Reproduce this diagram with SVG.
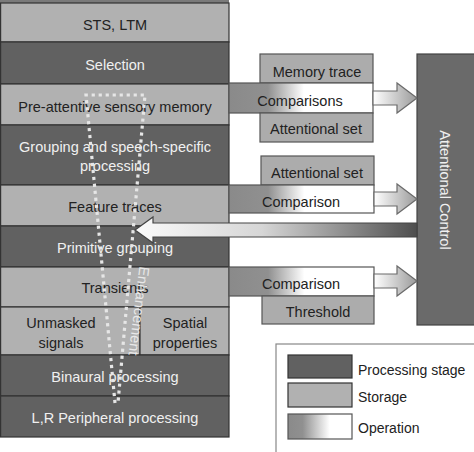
<svg xmlns="http://www.w3.org/2000/svg" width="474" height="452" viewBox="0 0 474 452">
<defs>
<linearGradient id="op" x1="0" y1="0" x2="1" y2="0">
<stop offset="0" stop-color="#8a8a8a"/>
<stop offset="0.27" stop-color="#909090"/>
<stop offset="0.52" stop-color="#ffffff"/>
<stop offset="1" stop-color="#ffffff"/>
</linearGradient>
<linearGradient id="opl" x1="0" y1="0" x2="1" y2="0">
<stop offset="0" stop-color="#8a8a8a"/>
<stop offset="0.23" stop-color="#909090"/>
<stop offset="0.65" stop-color="#ffffff"/>
<stop offset="1" stop-color="#ffffff"/>
</linearGradient>
<linearGradient id="ar" x1="0" y1="0" x2="1" y2="0">
<stop offset="0" stop-color="#ffffff"/>
<stop offset="1" stop-color="#9a9a9a"/>
</linearGradient>
<linearGradient id="back" gradientUnits="userSpaceOnUse" x1="135" y1="0" x2="417" y2="0">
<stop offset="0" stop-color="#fafafa"/>
<stop offset="0.45" stop-color="#d6d6d6"/>
<stop offset="1" stop-color="#4e4e4e"/>
</linearGradient>
</defs>
<style>
.proc{fill:#616161;stroke:#333;stroke-width:1.2}
.stor{fill:#b1b1b1;stroke:#333;stroke-width:1.2}
.box{fill:#acacac;stroke:#555;stroke-width:1.2}
.opr{fill:url(#op);stroke:#555;stroke-width:1.2}
.arr{fill:url(#ar);stroke:#6a6a6a;stroke-width:1.2}
text{font-family:"Liberation Sans",Arial,sans-serif;font-size:14.5px;text-anchor:middle;dominant-baseline:central}
.lt{fill:#f0f0f0}
.dk{fill:#222}
.lg{font-size:14px;text-anchor:start}
</style>
<rect x="0" y="0" width="474" height="452" fill="#ffffff"/>
<rect x="0" y="0" width="229" height="3" fill="#7a7a7a"/>

<g id="sts"><rect class="stor" x="0.6" y="3" width="228.4" height="39"/><text class="dk" x="115" y="25">STS, LTM</text></g>
<g id="selection"><rect class="proc" x="0.6" y="42" width="228.4" height="42"/><text class="lt" x="115" y="65">Selection</text></g>
<g id="preattentive"><rect class="stor" x="0.6" y="84" width="228.4" height="41"/><text class="dk" x="115" y="107">Pre-attentive sensory memory</text></g>
<g id="grouping"><rect class="proc" x="0.6" y="125" width="228.4" height="60"/><text class="lt" x="115" y="147">Grouping and speech-specific</text><text class="lt" x="115" y="166">processing</text></g>
<g id="feature"><rect class="stor" x="0.6" y="185" width="228.4" height="41"/><text class="dk" x="115" y="207">Feature traces</text></g>
<g id="primitive"><rect class="proc" x="0.6" y="226" width="228.4" height="41"/><text class="lt" x="115" y="248">Primitive grouping</text></g>
<g id="transients"><rect class="stor" x="0.6" y="267" width="228.4" height="40"/><text class="dk" x="115" y="288">Transients</text></g>
<g id="unmasked"><rect class="stor" x="0.6" y="307" width="139.4" height="48"/><text class="dk" x="61" y="323">Unmasked</text><text class="dk" x="61" y="343">signals</text></g>
<g id="spatial"><rect class="stor" x="140" y="307" width="89" height="48"/><text class="dk" x="185" y="323">Spatial</text><text class="dk" x="185" y="343">properties</text></g>
<g id="binaural"><rect class="proc" x="0.6" y="355" width="228.4" height="41"/><text class="lt" x="115" y="377">Binaural processing</text></g>
<g id="peripheral"><rect class="proc" x="0.6" y="396" width="228.4" height="41"/><text class="lt" x="115" y="418">L,R Peripheral processing</text></g>

<g id="enhancement">
<polyline points="115,403 86,95 145,95 118,403" fill="none" stroke="#e6e6e6" stroke-width="3.2" stroke-dasharray="3.2 3.8"/>
<text x="139" y="311" fill="#e8e8e8" font-size="15" transform="rotate(97 139 311)">Enhancement</text>
</g>

<g id="group1">
<rect class="box" x="260" y="54" width="113" height="29"/><text class="dk" x="317" y="72">Memory trace</text>
<rect class="opr" x="229" y="83" width="144" height="30"/><text class="dk" x="300" y="101">Comparisons</text>
<rect class="box" x="260" y="113" width="113" height="29"/><text class="dk" x="316" y="129">Attentional set</text>
</g>
<g id="group2">
<rect class="box" x="261" y="156" width="113" height="29"/><text class="dk" x="317" y="173">Attentional set</text>
<rect class="opr" x="229" y="185" width="145" height="28"/><text class="dk" x="301" y="202">Comparison</text>
</g>
<g id="group3">
<rect class="opr" x="229" y="267" width="145" height="29"/><text class="dk" x="301" y="284">Comparison</text>
<rect class="box" x="262" y="296" width="112" height="28"/><text class="dk" x="318" y="312">Threshold</text>
</g>

<g id="attentional-control">
<rect x="417" y="54" width="58" height="271" fill="#6a6a6a" stroke="#444" stroke-width="1.2"/>
<text class="lt" x="445" y="190" font-size="16" transform="rotate(90 445 190)">Attentional Control</text>
</g>

<g id="connectors">
<polygon class="arr" points="373,91 397,91 397,83 417,98 397,113 397,105 373,105"/>
<polygon class="arr" points="374,192 397,192 397,184 417,199 397,214 397,206 374,206"/>
<polygon class="arr" points="374,274 397,274 397,266 417,281 397,296 397,288 374,288"/>
<polygon points="417,223 153,223 153,217 135,230 153,243 153,237 417,237" fill="url(#back)" stroke="#444" stroke-width="1.2"/>
</g>

<g id="legend">
<rect x="276" y="344" width="200" height="112" fill="#ffffff" stroke="#888" stroke-width="1.2"/>
<rect class="proc" x="288" y="355" width="64" height="23"/>
<text class="dk lg" x="358" y="370">Processing stage</text>
<rect class="stor" x="288" y="383" width="64" height="24"/>
<text class="dk lg" x="358" y="397">Storage</text>
<rect x="288" y="414" width="64" height="25" fill="url(#opl)" stroke="#555" stroke-width="1.2"/>
<text class="dk lg" x="358" y="428">Operation</text>
</g>
</svg>
